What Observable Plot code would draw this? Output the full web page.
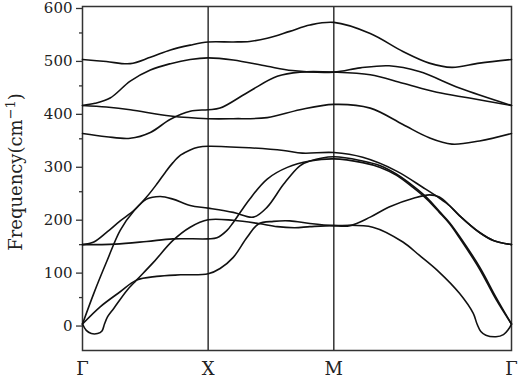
<!DOCTYPE html>
<html>
<head>
<meta charset="utf-8">
<script src="https://cdn.jsdelivr.net/npm/d3@7"></script>
<script src="https://cdn.jsdelivr.net/npm/@observablehq/plot@0.6"></script>
<style>
  html, body { margin: 0; padding: 0; background: #fff; }
</style>
</head>
<body>
<div id="chart"></div>
<script>
// High-symmetry path positions and labels
const xTicks = [0, 1, 2, 2 + Math.SQRT2];
const xLabels = ["Γ", "X", "M", "Γ"];
const yTicks = [0, 100, 200, 300, 400, 500, 600];
const yMinor = [50, 150, 250, 350, 450, 550];

// Phonon branches: [path coordinate, frequency cm^-1]
const branchA = [[0,500],[0.19,496],[0.38,492],[0.54,504],[0.70,518],[0.857,527],[1,533],
  [1.2,533],[1.33,534],[1.47,540],[1.65,553],[1.81,565],[2,570],
  [2.29,549],[2.55,515],[2.76,493],[2.94,485],[3.16,493],[3.414,500]];
const branchB = [[0,413],[0.1,417],[0.22,427],[0.38,459],[0.54,480],[0.70,492],[0.857,500],[1,503],
  [1.2,499],[1.47,487],[1.67,479],[2,476],
  [2.21,484],[2.44,488],[2.68,477],[3.0,446],[3.414,413]];
const branchC = [[0,413],[0.19,410],[0.38,405],[0.70,393],[1,388],
  [1.2,388],[1.47,390],[1.73,405],[2,415],
  [2.29,408],[2.55,377],[2.76,352],[2.94,340],[3.16,346],[3.414,360]];
const branchD = [[0,360],[0.19,354],[0.38,351],[0.54,362],[0.70,387],[0.857,402],[1,405],
  [1.095,408],[1.33,440],[1.55,468],[1.73,476],[2,476],
  [2.29,471],[2.55,455],[2.82,438],[3.08,427],[3.414,413]];
const branchE = [[0,150],[0.09,155],[0.196,174],[0.30,195],[0.41,215],[0.51,240],[0.59,264],[0.66,287],[0.72,305],[0.78,319],[0.857,329],[0.92,334],[1,336],
  [1.33,333],[1.6,328],[1.75,323],[2,324],
  [2.23,315],[2.5,289],[2.71,258],[2.84,238],[2.92,224],[3.0,205],[3.16,173],[3.27,158],[3.414,150]];
const branchF = [[0,0],[0.09,58],[0.196,120],[0.30,177],[0.41,214],[0.51,236],[0.62,241],[0.72,236],[0.857,224],[1,219],
  [1.2,211],[1.36,202],[1.47,221],[1.60,264],[1.73,299],[1.81,308],[2,316],
  [2.23,308],[2.37,299],[2.5,283],[2.63,261],[2.74,239],[2.84,213],[2.92,192],[3.0,166],[3.16,108],[3.29,51],[3.414,0]];
const branchG = [[0,150],[0.26,151],[0.51,156],[0.72,161],[1,161],
  [1.07,163],[1.15,177],[1.2,192],[1.33,236],[1.47,274],[1.63,296],[1.81,308],[2,312],
  [2.23,305],[2.37,296],[2.5,281],[2.63,258],[2.74,236],[2.84,211],[2.92,190],[3.0,163],[3.16,104],[3.29,47],[3.414,0]];
const branchH = [[0,0],[0.143,33],[0.30,61],[0.43,83],[0.59,90],[0.78,93],[1,95],
  [1.095,105],[1.2,126],[1.31,164],[1.40,189],[1.52,194],[1.65,195],[1.81,190],[2,186],
  [2.13,186],[2.29,202],[2.44,221],[2.64,238],[2.76,244],[2.84,240],[2.92,224],[3.0,205],[3.16,173],[3.27,158],[3.414,150]];
const branchI = [[0,0],[0.03,-12],[0.07,-18],[0.12,-18],[0.155,-13],[0.175,0],[0.2,14],[0.25,30],[0.355,64],[0.43,83],[0.566,117],[0.72,158],[0.857,183],[1,197],
  [1.2,196],[1.40,190],[1.55,184],[1.69,182],[1.81,184],[2,186],
  [2.31,183],[2.55,155],[2.68,130],[2.83,100],[3.0,58],[3.11,20],[3.14,0],[3.17,-14],[3.21,-21],[3.29,-24],[3.35,-20],[3.39,-10],[3.414,0]];

const branches = [branchA, branchB, branchC, branchD, branchE, branchF, branchG, branchH, branchI];

const font = "DejaVu Serif";
const plot = Plot.plot({
  width: 520,
  height: 378,
  marginLeft: 82,
  marginRight: 9,
  marginTop: 6,
  marginBottom: 28,
  x: {domain: [0, 2 + Math.SQRT2]},
  y: {domain: [-50, 600]},
  style: {fontFamily: font, background: "#fff", color: "#222"},
  marks: [
    Plot.axisY(yTicks, {tickSize: 6, tickPadding: 4, fontSize: 15, dy: 2, label: null, stroke: "#333", strokeWidth: 1.3}),
    Plot.axisY(yMinor, {tickSize: 3, tickFormat: () => "", label: null, stroke: "#333", strokeWidth: 1.3}),
    Plot.axisX(xTicks, {tickSize: 0, tickPadding: 12, fontSize: 18, label: null,
      tickFormat: d => xLabels[xTicks.indexOf(d)]}),
    Plot.ruleX([1, 2], {stroke: "#333", strokeWidth: 1.5}),
    Plot.frame({stroke: "#333", strokeWidth: 1.5}),
    ...branches.map(b => Plot.line(b, {x: d => d[0], y: d => d[1], curve: "catmull-rom", stroke: "#111", strokeWidth: 1.6}))
  ]
});

const svg = d3.select(plot);
const t = svg.append("text")
  .attr("transform", "translate(22,172) rotate(-90)")
  .attr("text-anchor", "middle")
  .attr("font-family", font)
  .attr("font-size", 18)
  .attr("fill", "#222");
t.append("tspan").text("Frequency(cm");
t.append("tspan").attr("dy", -7).attr("font-size", 13).text("−1");
t.append("tspan").attr("dy", 7).text(")");

document.getElementById("chart").appendChild(plot);
</script>
</body>
</html>
